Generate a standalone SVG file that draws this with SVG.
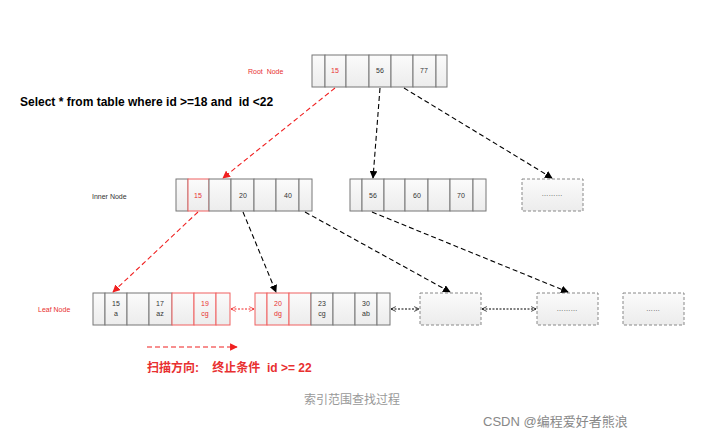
<svg xmlns="http://www.w3.org/2000/svg" width="709" height="440" viewBox="0 0 709 440">
<defs>
<linearGradient id="g" x1="0" y1="0" x2="0" y2="1"><stop offset="0" stop-color="#fbfbfb"/><stop offset="1" stop-color="#ececec"/></linearGradient>
<marker id="ab" viewBox="0 0 10 10" refX="9" refY="5" markerWidth="7" markerHeight="7" orient="auto"><path d="M0,0L10,5L0,10z" fill="#000"/></marker>
<marker id="ar" viewBox="0 0 10 10" refX="9" refY="5" markerWidth="7" markerHeight="7" orient="auto"><path d="M0,0L10,5L0,10z" fill="#f02020"/></marker>
<marker id="ob" viewBox="0 0 10 10" refX="9" refY="5" markerWidth="6" markerHeight="6" orient="auto-start-reverse"><path d="M1,1L9,5L1,9" fill="none" stroke="#000" stroke-width="1.2"/></marker>
<marker id="or" viewBox="0 0 10 10" refX="9" refY="5" markerWidth="6" markerHeight="6" orient="auto-start-reverse"><path d="M1,1L9,5L1,9" fill="none" stroke="#f02020" stroke-width="1.2"/></marker>
</defs>
<style>
.c{fill:url(#g);stroke:#777;stroke-width:1}
.cr{fill:url(#g);stroke:#f06060;stroke-width:1}
.d{fill:url(#g);stroke:#888;stroke-width:1;stroke-dasharray:3,2}
text{font-family:"Liberation Sans",Arial,sans-serif;font-size:7px;fill:#333;text-anchor:middle;white-space:pre}
.r{fill:#e83030}
.l{text-anchor:start}
.bl{stroke:#000;stroke-width:1.1;stroke-dasharray:5,3;fill:none}
.rl{stroke:#f02020;stroke-width:1.1;stroke-dasharray:5,3;fill:none}
</style>
<rect width="709" height="440" fill="#fff"/>
<text x="248" y="74" class="r l" xml:space="preserve">Root  Node</text>
<text x="92" y="199" class="l">Inner Node</text>
<text x="38" y="312" class="r l">Leaf Node</text>
<text x="20" y="106" class="l" xml:space="preserve" style="font-size:12px;font-weight:bold;fill:#000">Select * from table where id &gt;=18 and  id &lt;22</text>
<g id="root">
<rect class="c" x="312" y="55" width="13" height="32"/><rect class="c" x="325" y="55" width="21" height="32"/><rect class="c" x="346" y="55" width="23" height="32"/><rect class="c" x="369" y="55" width="22" height="32"/><rect class="c" x="391" y="55" width="22" height="32"/><rect class="c" x="413" y="55" width="23" height="32"/><rect class="c" x="436" y="55" width="11" height="32"/>
<text x="335" y="73" class="r">15</text><text x="380" y="73">56</text><text x="424" y="73">77</text>
</g>
<g id="inner1">
<rect class="c" x="176" y="179" width="12" height="32"/><rect class="cr" x="188" y="179" width="21" height="32"/><rect class="c" x="209" y="179" width="22" height="32"/><rect class="c" x="231" y="179" width="23" height="32"/><rect class="c" x="254" y="179" width="22" height="32"/><rect class="c" x="276" y="179" width="23" height="32"/><rect class="c" x="299" y="179" width="13" height="32"/>
<text x="198" y="198" class="r">15</text><text x="243" y="198">20</text><text x="288" y="198">40</text>
</g>
<g id="inner2">
<rect class="c" x="350" y="179" width="12" height="32"/><rect class="c" x="362" y="179" width="22" height="32"/><rect class="c" x="384" y="179" width="21" height="32"/><rect class="c" x="405" y="179" width="23" height="32"/><rect class="c" x="428" y="179" width="22" height="32"/><rect class="c" x="450" y="179" width="23" height="32"/><rect class="c" x="473" y="179" width="13" height="32"/>
<text x="373" y="198">56</text><text x="417" y="198">60</text><text x="461" y="198">70</text>
</g>
<g id="inner3"><rect class="d" x="522" y="179" width="61" height="32"/><text x="552" y="196">………</text></g>
<g id="leaf1">
<rect class="c" x="93" y="293" width="12" height="32"/><rect class="c" x="105" y="293" width="22" height="32"/><rect class="c" x="127" y="293" width="22" height="32"/><rect class="c" x="149" y="293" width="23" height="32"/><rect class="cr" x="172" y="293" width="22" height="32"/><rect class="cr" x="194" y="293" width="22" height="32"/><rect class="cr" x="216" y="293" width="14" height="32"/>
<text x="116" y="306">15</text><text x="116" y="316">a</text><text x="160" y="306">17</text><text x="160" y="316">az</text><text x="205" y="306" class="r">19</text><text x="205" y="316" class="r">cg</text>
</g>
<g id="leaf2">
<rect class="cr" x="255" y="293" width="12" height="32"/><rect class="cr" x="267" y="293" width="22" height="32"/><rect class="cr" x="289" y="293" width="22" height="32"/><rect class="c" x="311" y="293" width="22" height="32"/><rect class="c" x="333" y="293" width="22" height="32"/><rect class="c" x="355" y="293" width="22" height="32"/><rect class="c" x="377" y="293" width="13" height="32"/>
<text x="278" y="306" class="r">20</text><text x="278" y="316" class="r">dg</text><text x="322" y="306">23</text><text x="322" y="316">cg</text><text x="366" y="306">30</text><text x="366" y="316">ab</text>
</g>
<g id="leaf3"><rect class="d" x="420" y="293" width="61" height="32"/></g>
<g id="leaf4"><rect class="d" x="537" y="293" width="61" height="32"/><text x="567" y="311">………</text></g>
<g id="leaf5"><rect class="d" x="623" y="293" width="61" height="32"/><text x="653" y="311">……</text></g>
<g id="connectors">
<line class="rl" x1="335" y1="88" x2="223" y2="178" marker-end="url(#ar)"/>
<line class="bl" x1="380" y1="88" x2="373" y2="178" marker-end="url(#ab)"/>
<line class="bl" x1="404" y1="88" x2="552" y2="178" marker-end="url(#ab)"/>
<line class="rl" x1="198" y1="212" x2="113" y2="292" marker-end="url(#ar)"/>
<line class="bl" x1="243" y1="212" x2="276" y2="292" marker-end="url(#ab)"/>
<line class="bl" x1="305" y1="212" x2="450" y2="292" marker-end="url(#ab)"/>
<line class="bl" x1="372" y1="212" x2="568" y2="292" marker-end="url(#ab)"/>
<line x1="231" y1="309" x2="254" y2="309" stroke="#f02020" stroke-dasharray="2,1.5" marker-start="url(#or)" marker-end="url(#or)"/>
<line x1="391" y1="309" x2="419" y2="309" stroke="#000" stroke-dasharray="2,1.5" marker-start="url(#ob)" marker-end="url(#ob)"/>
<line x1="482" y1="309" x2="536" y2="309" stroke="#000" stroke-dasharray="2,1.5" marker-start="url(#ob)" marker-end="url(#ob)"/>
<line class="rl" x1="147" y1="347" x2="237" y2="347" marker-end="url(#ar)"/>
</g>
<text x="147" y="372" class="r l" xml:space="preserve" style="font-size:12px;font-weight:bold;font-family:'Liberation Sans','Noto Sans CJK SC',sans-serif">扫描方向:    终止条件  id &gt;= 22</text>
<text x="352" y="404" style="font-size:12px;fill:#999;font-family:'Noto Sans CJK SC',sans-serif">索引范围查找过程</text>
<text x="483" y="426" class="l" style="font-size:13px;fill:#888;font-family:'Liberation Sans','Noto Sans CJK SC',sans-serif">CSDN @编程爱好者熊浪</text>
</svg>
